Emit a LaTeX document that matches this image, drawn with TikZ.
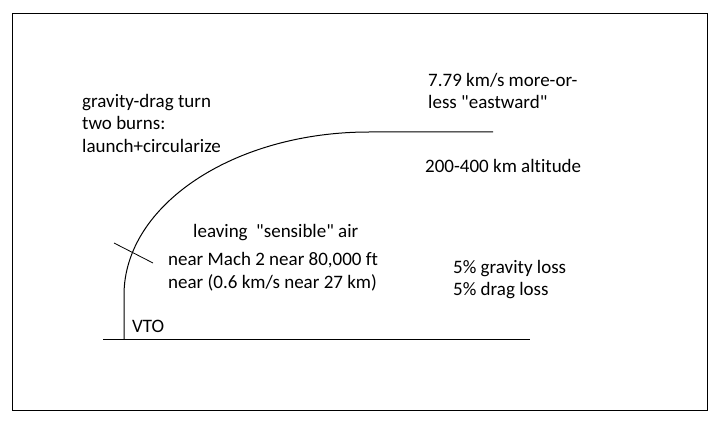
\documentclass[tikz,border=0pt]{standalone}
\usepackage{fontspec}
\setmainfont{Carlito}[Ligatures={NoCommon}]
\begin{document}
\begin{tikzpicture}[x=1pt,y=-1pt,
  lbl/.style={anchor=base west,inner sep=0pt,font=\fontsize{19}{22}\selectfont},
  ln/.style={line width=1pt,black}]
\useasboundingbox (0,0) rectangle (720,425);
\fill[white] (0,0) rectangle (720,425);
\draw[ln] (12,14) rectangle (707,410);
% ground
\coordinate (g1) at (103,339);
\coordinate (g2) at (530,339);
\draw[ln] (g1) -- (g2);
% trajectory
\coordinate (launch) at (124,339);
\coordinate (bend) at (124,295);
\coordinate (top) at (369,132);
\coordinate (orbitend) at (493,132);
\draw[ln] (launch) -- (bend) .. controls (124,205) and (234,132) .. (top) -- (orbitend);
% cross mark
\coordinate (c1) at (114,243);
\coordinate (c2) at (153,263);
\draw[ln,line width=0.8pt] (c1) -- (c2);
% texts
\node[lbl] (t1) at (82,108) {gravity-drag turn};
\node[lbl] (t2) at (82,130) {two burns:};
\node[lbl] (t3) at (82,153) {launch+circularize};
\node[lbl] (v1) at (428,87) {7.79 km/s more-or-};
\node[lbl] (v2) at (428,109) {less \textquotedbl eastward\textquotedbl};
\node[lbl] (alt) at (425,172) {200-400 km altitude};
\node[lbl] (s1) at (193,237) {leaving\ \ \textquotedbl sensible\textquotedbl\ air};
\node[lbl] (s2) at (168,265) {near Mach 2 near 80,000 ft};
\node[lbl] (s3) at (168,288) {near (0.6 km/s near 27 km)};
\node[lbl] (vto) at (132,332) {VTO};
\node[lbl] (l1) at (453,273) {5\% gravity loss};
\node[lbl] (l2) at (453,295) {5\% drag loss};
\end{tikzpicture}
\end{document}
